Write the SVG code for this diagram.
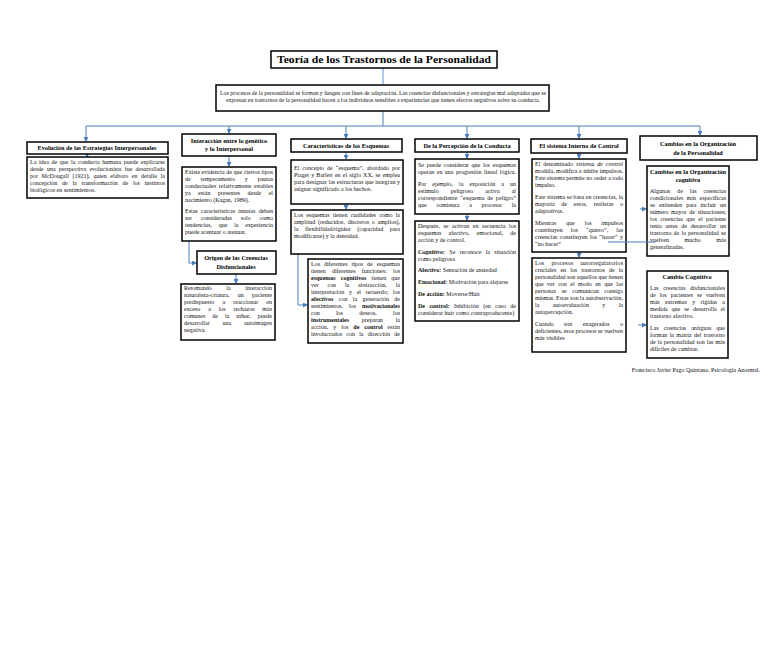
<svg xmlns="http://www.w3.org/2000/svg" width="768" height="646" viewBox="0 0 768 646">
<defs>
<marker id="ar" markerWidth="5" markerHeight="5" refX="4" refY="2.5" orient="auto" markerUnits="userSpaceOnUse">
<path d="M0,0 L5,2.5 L0,5 Z" fill="#4a7ebb"/>
</marker>
<style>
.bx{fill:#fff;stroke:#000;stroke-width:1.5}
.c{fill:none;stroke:#4a7ebb;stroke-width:1}
.ct{fill:none;stroke:#9dbde6;stroke-width:1.6}
.t{font-family:"Liberation Serif",serif;font-size:6px;fill:#111}
.h{font-family:"Liberation Serif",serif;font-size:6.3px;font-weight:bold;fill:#000;text-anchor:middle}
.m{text-anchor:middle}
.b{font-weight:bold}
</style>
</defs>
<rect width="768" height="646" fill="#fff"/>

<g id="connectors">
<path class="ct" d="M383,68 V85"/>
<path class="c" d="M383,111 V126"/>
<path class="c" d="M86,126 H700"/>
<path class="c" d="M86,126 V141" marker-end="url(#ar)"/>
<path class="c" d="M229,126 V133" marker-end="url(#ar)"/>
<path class="c" d="M346,126 V138" marker-end="url(#ar)"/>
<path class="c" d="M467,126 V138" marker-end="url(#ar)"/>
<path class="c" d="M579,126 V138" marker-end="url(#ar)"/>
<path class="c" d="M700,126 V135" marker-end="url(#ar)"/>
<path class="c" d="M87,154 V157" marker-end="url(#ar)"/>
<path class="c" d="M229,156 V166" marker-end="url(#ar)"/>
<path class="c" d="M189,241 V263 H196" marker-end="url(#ar)"/>
<path class="c" d="M236,274 V283" marker-end="url(#ar)"/>
<path class="c" d="M346,152 V159" marker-end="url(#ar)"/>
<path class="c" d="M346,204 V209" marker-end="url(#ar)"/>
<path class="c" d="M298,254 V305 H307" marker-end="url(#ar)"/>
<path class="c" d="M467,152 V158" marker-end="url(#ar)"/>
<path class="c" d="M467,214 V220" marker-end="url(#ar)"/>
<path class="c" d="M579,153 V158" marker-end="url(#ar)"/>
<path class="c" d="M579,252 V257" marker-end="url(#ar)"/>
<path class="c" d="M640,209 H646" marker-end="url(#ar)"/>
<path class="c" d="M638,325 H646" marker-end="url(#ar)"/>
</g>

<g id="title">
<rect class="bx" x="271" y="51" width="226" height="17"/>
<text x="384" y="63" font-family="Liberation Serif,serif" font-size="11" font-weight="bold" text-anchor="middle" textLength="214" lengthAdjust="spacingAndGlyphs">Teoría de los Trastornos de la Personalidad</text>
</g>

<g id="intro">
<rect class="bx" x="216" y="85" width="333" height="26"/>
<text class="t m" x="383" y="95" font-size="5" textLength="326" lengthAdjust="spacingAndGlyphs">Los procesos de la personalidad se forman y fungen con fines de adaptación. Las creencias disfuncionales y estrategias mal adaptadas que se</text>
<text class="t m" x="383" y="102" font-size="5" textLength="314" lengthAdjust="spacingAndGlyphs">expresan en trastornos de la personalidad hacen a los individuos sensibles a experiencias que tienen efectos negativos sobre su conducta.</text>
</g>

<g id="col1-header">
<rect class="bx" x="27" y="142" width="141" height="12"/>
<text class="h" x="97" y="150">Evolución de las Estrategias Interpersonales</text>
</g>
<g id="col1-box">
<rect class="bx" x="27" y="157" width="141" height="41"/>
<text class="t" x="30" y="164" textLength="135" word-spacing="1.1">La idea de que la conducta humana puede explicarse</text>
<text class="t" x="30" y="171" textLength="135" word-spacing="1.7">desde una perspectiva evolucionista fue desarrollada</text>
<text class="t" x="30" y="178" textLength="135" word-spacing="2.1">por McDougall (1921), quien elaboro en detalle la</text>
<text class="t" x="30" y="185" textLength="135" word-spacing="3.2">concepción de la transformación de los instintos</text>
<text class="t" x="30" y="192">biológicos en sentimientos.</text>
</g>

<g id="col2-header">
<rect class="bx" x="182" y="134" width="94" height="22"/>
<text class="h" x="229" y="143">Interacción entre lo genético</text>
<text class="h" x="229" y="151">y lo Interpersonal</text>
</g>
<g id="col2-box">
<rect class="bx" x="182" y="167" width="94" height="74"/>
<text class="t" x="185" y="174" textLength="88">Existe evidencia de que ciertos tipos</text>
<text class="t" x="185" y="181" textLength="88" word-spacing="8.4">de temperamento y pautas</text>
<text class="t" x="185" y="188" textLength="88" word-spacing="1">conductuales relativamente estables</text>
<text class="t" x="185" y="195" textLength="88" word-spacing="5.9">ya están presentes desde el</text>
<text class="t" x="185" y="202">nacimiento (Kagan, 1989).</text>
<text class="t" x="185" y="213" textLength="88" word-spacing="1.8">Estas características innatas deben</text>
<text class="t" x="185" y="220" textLength="88" word-spacing="7.4">ser consideradas solo como</text>
<text class="t" x="185" y="227" textLength="88" word-spacing="5.3">tendencias, que la experiencia</text>
<text class="t" x="185" y="234">puede acentuar o atenuar.</text>
</g>
<g id="col2-sub-header">
<rect class="bx" x="197" y="251" width="79" height="23"/>
<text class="h" x="236" y="260">Origen de las Creencias</text>
<text class="h" x="236" y="269">Disfuncionales</text>
</g>
<g id="col2-sub-box">
<rect class="bx" x="181" y="284" width="94" height="56"/>
<text class="t" x="184" y="290" textLength="88" word-spacing="13.2">Retomando la interacción</text>
<text class="t" x="184" y="297" textLength="88" word-spacing="6.8">naturaleza-crianza, un paciente</text>
<text class="t" x="184" y="304" textLength="88" word-spacing="6.6">predispuesto a reaccionar en</text>
<text class="t" x="184" y="311" textLength="88" word-spacing="6.3">exceso a los rechazos más</text>
<text class="t" x="184" y="318" textLength="88" word-spacing="5.5">comunes de la niñez, puede</text>
<text class="t" x="184" y="325" textLength="88" word-spacing="11.3">desarrollar una autoimagen</text>
<text class="t" x="184" y="332">negativa.</text>
</g>

<g id="col3-header">
<rect class="bx" x="291" y="139" width="111" height="13"/>
<text class="h" x="346" y="148">Características de los Esquemas</text>
</g>
<g id="col3-box1">
<rect class="bx" x="291" y="160" width="112" height="44"/>
<text class="t" x="294" y="170" textLength="106" word-spacing="1.5">El concepto de “esquema”, abordado por</text>
<text class="t" x="294" y="177" textLength="106" word-spacing="0.7">Piaget y Barlett en el siglo XX, se emplea</text>
<text class="t" x="294" y="184" textLength="106">para designar las estructuras que integran y</text>
<text class="t" x="294" y="191">asignar significado a los hechos.</text>
</g>
<g id="col3-box2">
<rect class="bx" x="291" y="210" width="112" height="44"/>
<text class="t" x="294" y="217" textLength="106" word-spacing="1.7">Los esquemas tienen cualidades como la</text>
<text class="t" x="294" y="224" textLength="106" word-spacing="1.2">amplitud (reducidos, discretos o amplios),</text>
<text class="t" x="294" y="231" textLength="106" word-spacing="5.1">la flexibilidad/rigidez (capacidad para</text>
<text class="t" x="294" y="238">modificarse) y la densidad.</text>
</g>
<g id="col3-box3">
<rect class="bx" x="308" y="259" width="95" height="84"/>
<text class="t" x="311" y="266" textLength="89" word-spacing="2.4">Los diferentes tipos de esquemas</text>
<text class="t" x="311" y="273" textLength="89" word-spacing="4.7">tienen diferentes funciones: los</text>
<text class="t" x="311" y="280" textLength="89" word-spacing="3.6"><tspan class="b">esquemas cognitivos</tspan> tienen que</text>
<text class="t" x="311" y="287" textLength="89" word-spacing="7.3">ver con la abstracción, la</text>
<text class="t" x="311" y="294" textLength="89" word-spacing="3.2">interpretación y el recuerdo; los</text>
<text class="t" x="311" y="301" textLength="89" word-spacing="3.9"><tspan class="b">afectivos</tspan> con la generación de</text>
<text class="t" x="311" y="308" textLength="89" word-spacing="4.6">sentimientos, los <tspan class="b">motivacionales</tspan></text>
<text class="t" x="311" y="315" textLength="89" word-spacing="14.8">con los deseos, los</text>
<text class="t" x="311" y="322" textLength="89" word-spacing="11.3"><tspan class="b">instrumentales</tspan> preparan la</text>
<text class="t" x="311" y="329" textLength="89" word-spacing="3.5">acción, y los <tspan class="b">de control</tspan> están</text>
<text class="t" x="311" y="336" textLength="89" word-spacing="2.7">involucrados con la dirección de</text>
</g>

<g id="col4-header">
<rect class="bx" x="415" y="139" width="104" height="13"/>
<text class="h" x="467" y="148">De la Percepción de la Conducta</text>
</g>
<g id="col4-box1">
<rect class="bx" x="415" y="159" width="104" height="55"/>
<text class="t" x="418" y="167" textLength="98" word-spacing="1.2">Se puede considerar que los esquemas</text>
<text class="t" x="418" y="174" textLength="98" word-spacing="0.9">operan en una progresión lineal lógica.</text>
<text class="t" x="418" y="186" textLength="98" word-spacing="4.5">Por ejemplo, la exposición a un</text>
<text class="t" x="418" y="193" textLength="98" word-spacing="10.6">estímulo peligroso activa al</text>
<text class="t" x="418" y="200" textLength="98" word-spacing="1.2">correspondiente “esquema de peligro”</text>
<text class="t" x="418" y="207" textLength="98" word-spacing="8.2">que comienza a procesar la</text>
</g>
<g id="col4-box2">
<rect class="bx" x="415" y="221" width="104" height="100"/>
<text class="t" x="418" y="228" textLength="98" word-spacing="2.1">Después, se activan en secuencia los</text>
<text class="t" x="418" y="235" textLength="98" word-spacing="5.7">esquemas afectivo, emocional, de</text>
<text class="t" x="418" y="242">acción y de control.</text>
<text class="t" x="418" y="254" textLength="98" word-spacing="2.8"><tspan class="b">Cognitivo:</tspan> Se reconoce la situación</text>
<text class="t" x="418" y="261">como peligrosa</text>
<text class="t" x="418" y="272"><tspan class="b">Afectivo:</tspan> Sensación de ansiedad</text>
<text class="t" x="418" y="284"><tspan class="b">Emocional:</tspan> Motivación para alejarse</text>
<text class="t" x="418" y="296"><tspan class="b">De acción:</tspan> Moverse/Huir</text>
<text class="t" x="418" y="308" textLength="98" word-spacing="2.9"><tspan class="b">De control:</tspan> Inhibición (en caso de</text>
<text class="t" x="418" y="315">considerar huir como contraproducente)</text>
</g>

<g id="col5-header">
<rect class="bx" x="531" y="139" width="96" height="14"/>
<text class="h" x="579" y="148">El sistema Interno de Control</text>
</g>
<g id="col5-box1">
<rect class="bx" x="532" y="159" width="94" height="93"/>
<text class="t" x="535" y="166" textLength="88" word-spacing="1.4">El denominado <tspan font-style="italic">sistema de control</tspan></text>
<text class="t" x="535" y="173" textLength="88">modula, modifica e inhibe impulsos.</text>
<text class="t" x="535" y="180" textLength="88">Este sistema permite no ceder a todo</text>
<text class="t" x="535" y="187">impulso.</text>
<text class="t" x="535" y="199" textLength="88">Este sistema se basa en creencias, la</text>
<text class="t" x="535" y="206" textLength="88" word-spacing="5.1">mayoría de estos, realistas o</text>
<text class="t" x="535" y="213">adaptativas.</text>
<text class="t" x="535" y="225" textLength="88" word-spacing="8.3">Mientras que los impulsos</text>
<text class="t" x="535" y="232" textLength="88" word-spacing="6.7">constituyen los “quiero”, las</text>
<text class="t" x="535" y="239" textLength="88" word-spacing="0.8">creencias constituyen los “hacer” y</text>
<text class="t" x="535" y="246">“no hacer”</text>
</g>
<g id="col5-box2">
<rect class="bx" x="532" y="258" width="94" height="94"/>
<text class="t" x="535" y="265" textLength="88" word-spacing="5.5">Los procesos autorregulatorios</text>
<text class="t" x="535" y="272" textLength="88" word-spacing="2.6">cruciales en los trastornos de la</text>
<text class="t" x="535" y="279" textLength="88">personalidad son aquellos que tienen</text>
<text class="t" x="535" y="286" textLength="88" word-spacing="1.9">que ver con el modo en que las</text>
<text class="t" x="535" y="293" textLength="88" word-spacing="4.2">personas se comunican consigo</text>
<text class="t" x="535" y="300" textLength="88">mismas. Estas son la autobservación,</text>
<text class="t" x="535" y="307" textLength="88" word-spacing="11.8">la autoevaluación y la</text>
<text class="t" x="535" y="314">autopercepción.</text>
<text class="t" x="535" y="326" textLength="88" word-spacing="8.8">Cuando son exagerados o</text>
<text class="t" x="535" y="333" textLength="88">deficientes, esos procesos se vuelven</text>
<text class="t" x="535" y="340">más visibles</text>
</g>

<g id="col6-header">
<rect class="bx" x="640" y="136" width="117" height="24"/>
<text class="h" x="698" y="146">Cambios en la Organización</text>
<text class="h" x="698" y="155">de la Personalidad</text>
</g>
<g id="col6-box1">
<rect class="bx" x="647" y="166" width="82" height="90"/>
<text class="h" x="688" y="174" font-size="5.8">Cambios en la Organización</text>
<text class="h" x="688" y="182" font-size="5.8">cognitiva</text>
<text class="t" x="650" y="193" textLength="76" word-spacing="5.4">Algunas de las creencias</text>
<text class="t" x="650" y="200" textLength="76" word-spacing="1.7">condicionales más específicas</text>
<text class="t" x="650" y="207" textLength="76" word-spacing="2.4">se extienden para incluir un</text>
<text class="t" x="650" y="214" textLength="76" word-spacing="1.3">número mayor de situaciones;</text>
<text class="t" x="650" y="221" textLength="76" word-spacing="1.8">los creencias que el paciente</text>
<text class="t" x="650" y="228" textLength="76" word-spacing="2.2">tenía antes de desarrollar un</text>
<text class="t" x="650" y="235" textLength="76" word-spacing="0.7">trastorno de la personalidad se</text>
<text class="t" x="650" y="242" textLength="76" word-spacing="14">vuelven mucho más</text>
<text class="t" x="650" y="249">generalizadas.</text>
</g>
<g id="col6-box2">
<rect class="bx" x="647" y="271" width="81" height="87"/>
<text class="h" x="687" y="279" font-size="5.8">Cambio Cognitivo</text>
<text class="t" x="650" y="290" textLength="75" word-spacing="2.9">Las creencias disfuncionales</text>
<text class="t" x="650" y="297" textLength="75" word-spacing="2.5">de los pacientes se vuelven</text>
<text class="t" x="650" y="304" textLength="75" word-spacing="3.9">más extremas y rígidas a</text>
<text class="t" x="650" y="311" textLength="75" word-spacing="2.4">medida que se desarrolla el</text>
<text class="t" x="650" y="318">trastorno afectivo.</text>
<text class="t" x="650" y="330" textLength="75" word-spacing="3.4">Las creencias antiguas que</text>
<text class="t" x="650" y="337" textLength="75" word-spacing="0.8">forman la matriz del trastorno</text>
<text class="t" x="650" y="344" textLength="75" word-spacing="0.4">de la personalidad son las más</text>
<text class="t" x="650" y="351">difíciles de cambiar.</text>
</g>

<g id="connectors-top">
<path class="c" d="M608,242 H655"/>
</g>

<g id="footer">
<text class="t" x="760" y="372" font-size="5" text-anchor="end">Francisco Javier Pago Quintana. Psicología Anormal.</text>
</g>
</svg>
